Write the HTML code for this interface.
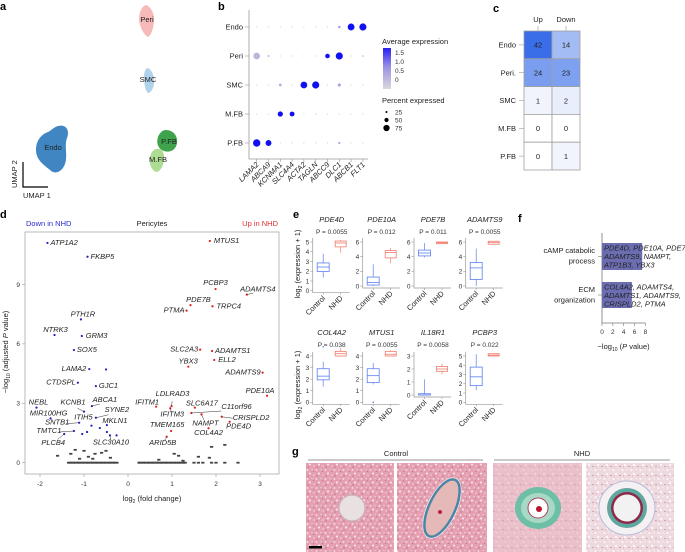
<!DOCTYPE html>
<html><head><meta charset="utf-8">
<style>
html,body{margin:0;padding:0;background:#fff;}
svg{display:block;font-family:"Liberation Sans",sans-serif;}
.t{font-size:7.5px;fill:#222;}
.tk{font-size:6.5px;fill:#333;}
.it{font-style:italic;}
.pl{font-size:11px;font-weight:bold;fill:#000;}
</style></head>
<body>
<svg id="fig" width="685" height="552" viewBox="0 0 685 552" xmlns="http://www.w3.org/2000/svg">
<defs>
 <pattern id="pinkTex" width="9" height="9" patternUnits="userSpaceOnUse">
  <rect width="9" height="9" fill="#e4a0b1"/>
  <circle cx="1.5" cy="2" r="0.9" fill="#f6e6ea"/><circle cx="6" cy="1.5" r="0.6" fill="#f3dbe1"/>
  <circle cx="4" cy="5.5" r="1" fill="#f8ecef"/><circle cx="8" cy="7" r="0.7" fill="#f3dbe1"/>
  <circle cx="2" cy="8" r="0.45" fill="#9a2545"/><circle cx="7.5" cy="3.5" r="0.35" fill="#8a1e3a"/>
 </pattern>
 <pattern id="paleTex" width="9" height="9" patternUnits="userSpaceOnUse">
  <rect width="9" height="9" fill="#eed9df"/>
  <circle cx="1.5" cy="2" r="1.1" fill="#faf4f6"/><circle cx="6" cy="1.5" r="0.8" fill="#f7eef1"/>
  <circle cx="4" cy="6" r="1.2" fill="#fbf7f8"/><circle cx="8" cy="7.5" r="0.45" fill="#b03050"/>
  <circle cx="2.5" cy="8" r="0.4" fill="#8b8fb8"/>
 </pattern>
</defs>

<!-- Panel a -->
<g>
 <text class="pl" x="0" y="10">a</text>
 <path d="M146,5 C151,7 155,14 154,22 C153,30 151,35 148,37 C144,35 140,28 139,20 C139,12 142,6 146,5Z" fill="#f6b3b0" opacity="0.9"/>
 <path d="M148,68 C152,70 155,77 154,84 C153,90 150,93 148,93 C145,90 144,83 144,77 C144,71 146,68 148,68Z" fill="#a9cde9" opacity="0.9"/>
 <path d="M58,126 C66,124 70,130 67,138 C64,146 68,155 65,164 C62,172 55,175 50,170 C44,165 36,160 36,150 C36,140 42,134 48,132 C52,130 54,127 58,126Z" fill="#2f7cbd" opacity="0.92"/>
 <path d="M166,130 C173,130 178,136 177,143 C176,150 170,153 164,151 C158,149 156,143 158,137 C160,132 163,130 166,130Z" fill="#2f9a3e" opacity="0.92"/>
 <path d="M157,149 C162,148 165,153 164,160 C163,167 160,172 156,172 C151,170 149,163 150,157 C151,152 154,149 157,149Z" fill="#a6d98a" opacity="0.92"/>
 <text class="t" x="147" y="22" text-anchor="middle">Peri</text>
 <text class="t" x="148" y="82" text-anchor="middle">SMC</text>
 <text class="t" x="53" y="150" text-anchor="middle">Endo</text>
 <text class="t" x="169" y="144" text-anchor="middle">P.FB</text>
 <text class="t" x="158" y="162" text-anchor="middle">M.FB</text>
 <path d="M23,162 L23,187 L48,187" stroke="#000" stroke-width="1.2" fill="none"/>
 <text class="t" x="0" y="0" transform="translate(17,188) rotate(-90)">UMAP 2</text>
 <text class="t" x="23" y="198">UMAP 1</text>
</g>

<!-- Panel b -->
<g id="panelB">
 <text class="pl" x="218" y="10">b</text>
 <path d="M249,10 L249,159 L368,159" stroke="#999" stroke-width="0.8" fill="none"/>
 <text class="t" x="382" y="44">Average expression</text>
 <linearGradient id="cbar" x1="0" y1="1" x2="0" y2="0"><stop offset="0" stop-color="#d9d9d9"/><stop offset="0.55" stop-color="#9a8fe6"/><stop offset="1" stop-color="#2a1ff0"/></linearGradient>
 <rect x="383" y="48" width="8" height="41" fill="url(#cbar)"/>
 <text class="tk" x="395" y="55">1.5</text>
 <text class="tk" x="395" y="64">1.0</text>
 <text class="tk" x="395" y="73">0.5</text>
 <text class="tk" x="395" y="82">0</text>
 <text class="t" x="382" y="103">Percent expressed</text>
</g>

<!-- Panel c -->
<g id="panelC">
 <text class="pl" x="493" y="12">c</text>
 <text class="t" x="538" y="22" text-anchor="middle">Up</text>
 <text class="t" x="566" y="22" text-anchor="middle">Down</text>
</g>

<!-- Panel d -->
<g id="panelD">
 <text class="pl" x="0" y="218">d</text>
 <text class="t" x="26" y="226" style="fill:#2a2ad0">Down in NHD</text>
 <text class="t" x="152" y="226" text-anchor="middle">Pericytes</text>
 <text class="t" x="278" y="226" text-anchor="end" style="fill:#e03030">Up in NHD</text>
 <rect x="25" y="232" width="254" height="242" fill="none" stroke="#aaa" stroke-width="0.8"/>
 <text class="t" x="152" y="501" text-anchor="middle">log<tspan font-size="5" dy="2">2</tspan><tspan dy="-2"> (fold change)</tspan></text>
 <text class="t" transform="translate(8,352) rotate(-90)" text-anchor="middle">−log<tspan font-size="5" dy="2">10</tspan><tspan dy="-2"> (adjusted </tspan><tspan font-style="italic">P</tspan> value)</text>
</g>

<!-- Panel e -->
<g id="panelE">
 <text class="pl" x="293" y="218">e</text>
 <text class="t" transform="translate(300,264) rotate(-90)" text-anchor="middle">log<tspan font-size="5" dy="2">2</tspan><tspan dy="-2"> (expression + 1)</tspan></text>
 <text class="t" transform="translate(300,385) rotate(-90)" text-anchor="middle">log<tspan font-size="5" dy="2">2</tspan><tspan dy="-2"> (expression + 1)</tspan></text>
</g>

<!-- Panel f -->
<g id="panelF">
 <text class="pl" x="518" y="222">f</text>
 <text class="t" x="623.6" y="349" text-anchor="middle">−log<tspan font-size="5" dy="2">10</tspan><tspan dy="-2"> (</tspan><tspan font-style="italic">P</tspan> value)</text>
</g>

<!-- Panel g -->
<g>
 <text class="pl" x="292" y="455">g</text>
 <text class="t" x="396" y="456" text-anchor="middle">Control</text>
 <line x1="308" y1="460" x2="483" y2="460" stroke="#aaa" stroke-width="1.2"/>
 <text class="t" x="582" y="456" text-anchor="middle">NHD</text>
 <line x1="494" y1="460" x2="670" y2="460" stroke="#aaa" stroke-width="1.2"/>
 <g>
  <rect x="306" y="463" width="88" height="89" fill="url(#pinkTex)"/>
  <circle cx="352" cy="508" r="13" fill="#e9e1e1" stroke="#c8b0c0" stroke-width="1.2"/>
  <rect x="309" y="546" width="13" height="2.5" fill="#000"/>
 </g>
 <g>
  <rect x="397" y="463" width="90" height="89" fill="url(#pinkTex)"/>
  <ellipse cx="442" cy="508" rx="15" ry="33" transform="rotate(25 442 508)" fill="#f4f0f0"/>
  <ellipse cx="442" cy="508" rx="13" ry="31" transform="rotate(25 442 508)" fill="#e6b9b9" stroke="#4a86a6" stroke-width="2.5"/>
  <circle cx="440" cy="512" r="2" fill="#c0203a"/>
 </g>
 <g>
  <rect x="493" y="463" width="89" height="89" fill="url(#paleTex)"/>
  <rect x="493" y="463" width="89" height="89" fill="#e4a0b2" opacity="0.45"/>
  <ellipse cx="538" cy="508" rx="23" ry="21" fill="#6dbfa5"/>
  <ellipse cx="538" cy="508" rx="17" ry="15" fill="#a8d9c6"/>
  <circle cx="538" cy="508" r="10" fill="#fff" stroke="#b04060" stroke-width="1"/>
  <circle cx="539" cy="509" r="3" fill="#c01030"/>
 </g>
 <g>
  <rect x="586" y="463" width="88" height="89" fill="url(#paleTex)"/>
  <ellipse cx="627" cy="508" rx="28" ry="27" fill="#f5f0f2" stroke="#b8bcd8" stroke-width="1"/>
  <circle cx="627" cy="508" r="20" fill="#5fa8a0"/>
  <circle cx="627" cy="508" r="16" fill="#8d2a4a"/>
  <circle cx="627" cy="508" r="13.5" fill="#f2f2f2"/>
 </g>
</g>
</svg>

<script>
// ---------- Panel b data ----------
const dotRows = ["Endo","Peri","SMC","M.FB","P.FB"];
const dotCols = ["LAMA2","ABCA9","KCNMA1","SLC4A4","ACTA2","TAGLN","ABCC9","DLC1","ABCB1","FLT1"];
const dotAvg = [
 [-0.5,-0.5,-0.5,-0.5,-0.5,-0.5,-0.5,-0.1,1.6,1.6],
 [-0.3,-0.4,-0.5,-0.5,-0.5,-0.5,1.6,1.6,-0.5,-0.4],
 [-0.5,-0.5,-0.2,-0.5,1.6,1.6,-0.5,-0.1,-0.5,-0.5],
 [-0.5,-0.5,1.6,1.6,-0.5,-0.5,-0.5,-0.5,-0.5,-0.5],
 [1.6,1.6,-0.5,-0.5,-0.5,-0.5,-0.5,-0.2,-0.5,-0.5]];
const dotPct = [
 [15,15,15,15,15,15,15,30,82,85],
 [80,27,15,15,15,15,55,85,15,22],
 [15,15,32,15,80,85,15,37,15,15],
 [15,15,62,58,15,18,15,15,15,15],
 [88,70,15,15,15,15,15,26,15,15]];
const legendPct = [25,50,75];
// ---------- Panel c data ----------
const hmRows = ["Endo","Peri.","SMC","M.FB","P.FB"];
const hmUp = [42,24,1,0,0];
const hmDown = [14,23,2,0,1];
// ---------- Panel d data ----------
const sigNames = ["ATP1A2","FKBP5","PTH1R","NTRK3","GRM3","SOX5","LAMA2","","CTDSPL","GJC1","NEBL","KCNB1","ABCA1","SYNE2","MIR100HG","SNTB1","ITIH5","MKLN1","TMTC1","PLCB4","SLC30A10","","","","","",
 "MTUS1","PCBP3","ADAMTS4","PDE7B","TRPC4","PTMA","SLC2A3","ADAMTS1","ELL2","YBX3","ADAMTS9","PDE10A","IFITM1","LDLRAD3","IFITM3","SLC6A17","C11orf96","NAMPT","CRISPLD2","PDE4D","COL4A2","TMEM165","ARID5B"];
const sigFC = [-1.83,-0.92,-1.07,-1.67,-1.05,-1.23,-0.88,-0.50,-1.14,-0.73,-2.08,-1.00,-0.82,-0.73,-1.76,-1.11,-0.83,-0.48,-1.23,-1.45,-0.41,-1.04,-0.93,-0.64,-0.48,-0.26,
 1.86,1.99,2.70,1.42,1.92,1.33,1.64,1.91,1.96,1.37,3.06,3.16,0.64,0.99,0.96,1.52,1.44,1.67,2.13,2.31,1.83,0.98,0.88];
const sigP = [11.1,10.4,7.24,6.45,6.40,5.69,4.73,4.71,4.04,3.87,2.78,2.58,2.86,2.27,2.24,2.02,1.87,1.90,1.60,1.45,1.38,1.45,1.55,1.75,1.55,1.38,
 11.2,8.77,8.49,7.96,7.90,7.68,5.71,5.64,5.19,4.85,4.55,3.38,2.83,2.86,2.75,2.78,2.51,2.44,2.32,2.07,1.74,1.60,1.31];
const nsFC = [-1.35,-1.3,-1.25,-1.2,-1.15,-1.1,-1.05,-1.0,-0.95,-0.9,-0.85,-0.8,-0.75,-0.7,-0.65,-0.6,-0.55,-0.5,-0.45,-0.4,-0.35,-0.3,-0.25,
 -1.32,-1.22,-1.12,-1.02,-0.92,-0.82,-0.72,-0.62,-0.52,-0.42,-0.32,
 0.25,0.3,0.35,0.4,0.45,0.5,0.55,0.6,0.65,0.7,0.75,0.8,0.85,0.9,0.95,1.0,1.05,1.1,1.15,1.2,1.25,1.3,
 0.27,0.37,0.47,0.57,0.67,0.77,0.87,0.97,1.07,1.17,1.27,
 1.5,1.6,1.7,1.9,2.0,2.2,2.5,
 -1.6,-1.3,-1.2,-1.0,-0.9,-0.75,-0.6,-0.5,-0.4,-1.1,-0.8,1.05,1.15,1.6,1.85,1.9,2.2,1.25,0.7];
const nsP = [0,0,0,0,0,0,0,0,0,0,0,0,0,0,0,0,0,0,0,0,0,0,0,
 0,0,0,0,0,0,0,0,0,0,0,
 0,0,0,0,0,0,0,0,0,0,0,0,0,0,0,0,0,0,0,0,0,0,
 0,0,0,0,0,0,0,0,0,0,0,
 0,0,0,0,0,0,0,
 0.35,0.45,0.65,0.6,0.3,0.45,0.5,0.6,0.25,0.2,0.2,0.45,0.35,0.3,0.25,0.8,0.9,0.1,0.15];
const volXTicks = [-2,-1,0,1,2,3];
const volYTicks = [0,3,6,9];
// ---------- Panel e data ----------
const boxGenes = ["PDE4D","PDE10A","PDE7B","ADAMTS9","COL4A2","MTUS1","IL18R1","PCBP3"];
const boxPvals = ["P = 0.0055","P = 0.012","P = 0.011","P = 0.0055","P = 0.038","P = 0.0055","P = 0.0058","P = 0.022"];
const boxYTicks = [[0,1,2,3,4,5],[0,2,4,6],[0,2,4,6],[0,2,4,6],[0,1,2,3,4],[0,1,2,3,4],[0,1,2,3],[0,1,2,3,4,5]];
// [whiskerLo, q1, median, q3, whiskerHi]
const ctrlStats = [[1.35,1.98,2.43,2.85,3.8],[0,0.13,0.48,1.22,2.96],[3.9,4.1,4.5,4.9,5.86],[0,0.9,2.47,3.2,5.1],[1.35,1.94,2.26,2.9,3.5],[1.55,1.7,2.3,2.9,3.4],[0,0,0,0.1,1.2],[1.3,1.8,2.75,3.8,5.2]];
const nhdStats = [[3.9,4.5,4.9,5.1,5.2],[3.1,3.83,4.57,4.83,5.2],[5.77,5.77,5.9,6.0,6.0],[5.7,5.7,5.95,6.1,6.1],[3.95,4.0,4.2,4.4,4.7],[4.0,4.0,4.15,4.4,4.5],[1.6,1.82,2.0,2.2,2.4],[5.0,5.0,5.1,5.25,5.25]];
const ctrlOutliers = [[],[],[],[],[4.8],[0],[],[]];
// ---------- Panel f data ----------
const goTerms = [["cAMP catabolic","process"],["ECM","organization"]];
const goValues = [7.4,5.5];
const goGenes = [["PDE4D, PDE10A, PDE7B,","ADAMTS9, NAMPT,","ATP1B3, YBX3"],["COL4A2, ADAMTS4,","ADAMTS1, ADAMTS9,","CRISPLD2, PTMA"]];
const goTicks = [0,2,4,6,8];

const NS = "http://www.w3.org/2000/svg";
function mk(parent, tag, attrs, text){
  const e = document.createElementNS(NS, tag);
  for (const k in attrs) e.setAttribute(k, attrs[k]);
  if (text !== undefined) e.textContent = text;
  parent.appendChild(e); return e;
}

// ---- Panel b ----
(function(){
  const g = document.getElementById('panelB');
  const colX = c => 256.7 + c*11.8;
  const rowY = r => 27 + r*29;
  const rad = p => p/100*4.2;
  const col = a => { let t=Math.max(0,Math.min(1,(a+0.5)/2.1)); t=Math.pow(t,0.8);
    const r=Math.round(214+(16-214)*t), gg=Math.round(214+(16-214)*t), b=Math.round(214+(240-214)*t);
    return `rgb(${r},${gg},${b})`; };
  dotRows.forEach((rn,r)=>{
    const lbl = mk(g,'text',{class:'t',x:243,y:rowY(r)+2.7,'text-anchor':'end'},rn);
    
    
    mk(g,'line',{x1:245,y1:rowY(r),x2:249,y2:rowY(r),stroke:'#999','stroke-width':0.6});
    dotCols.forEach((cn,c)=>{
      const d = mk(g,'circle',{cx:colX(c),cy:rowY(r),r:rad(dotPct[r][c]),fill:col(dotAvg[r][c])});
      
      
    });
  });
  dotCols.forEach((cn,c)=>{
    mk(g,'line',{x1:colX(c),y1:159,x2:colX(c),y2:162,stroke:'#999','stroke-width':0.6});
    const t = mk(g,'text',{class:'t it',x:0,y:0,'text-anchor':'end',transform:`translate(${colX(c)+2.5},${165}) rotate(-45)`},cn);
    
    
  });
  legendPct.forEach((p,i)=>{
    const y = 112 + i*8;
    const d = mk(g,'circle',{cx:386.5,cy:y,r:rad(p),fill:'#000'});
    
    
    const t = mk(g,'text',{class:'tk',x:395,y:y+2.3},String(p));
    
    
  });
})();

// ---- Panel c ----
(function(){
  const g = document.getElementById('panelC');
  const x0=524, w=28, y0=31, h=27.8;
  const color = v => { const t=Math.pow(v/42,0.7);
    return `rgb(${Math.round(255+(58-255)*t)},${Math.round(255+(110-255)*t)},${Math.round(255+(232-255)*t)})`; };
  hmRows.forEach((rn,r)=>{
    const y=y0+r*h;
    const l = mk(g,'text',{class:'t',x:516,y:y+h/2+2.7,'text-anchor':'end'},rn);
    
    
    mk(g,'line',{x1:519,y1:y+h/2,x2:524,y2:y+h/2,stroke:'#999','stroke-width':0.6});
    [hmUp[r],hmDown[r]].forEach((v,c)=>{
      const cell = mk(g,'rect',{x:x0+c*w,y:y,width:w,height:h,fill:color(v),stroke:'#a0a0a0','stroke-width':0.8});
      
      
      const t = mk(g,'text',{class:'t',x:x0+c*w+w/2,y:y+h/2+2.8,'text-anchor':'middle'},String(v));
      
      
    });
  });
  mk(g,'line',{x1:538,y1:26,x2:538,y2:31,stroke:'#999','stroke-width':0.6});
  mk(g,'line',{x1:566,y1:26,x2:566,y2:31,stroke:'#999','stroke-width':0.6});
})();

// ---- Panel d ----
const labelLayout = {
 "ATP1A2":["start",3,2],"FKBP5":["start",3,2],"MTUS1":["start",4,2],"PCBP3":["middle",0,-4],"ADAMTS4":["middle",11,-3],
 "PDE7B":["middle",8,-3],"TRPC4":["start",4,2],"PTMA":["end",-2,2],"PTH1R":["middle",2,-3],"NTRK3":["middle",1,-3],
 "GRM3":["start",4,2],"SOX5":["start",3,2],"SLC2A3":["end",-2,2],"ADAMTS1":["start",3,2],"ELL2":["start",4,2],
 "YBX3":["middle",0,-3],"LAMA2":["end",-3,2],"ADAMTS9":["end",-2,2],"CTDSPL":["end",-2,2],"GJC1":["start",3,2],
 "PDE10A":["middle",-7,-3],"NEBL":["middle",2,-3],"KCNB1":["middle",-11,-7],"ABCA1":["middle",13,-4],"IFITM1":["middle",-9,-2],
 "LDLRAD3":["middle",1,-10],"IFITM3":["middle",2,8],"SLC6A17":["middle",7,-2],"C11orf96":["start",30,-4],"NAMPT":["middle",4,11],
 "CRISPLD2":["start",11,3],"SYNE2":["middle",21,-6],"MIR100HG":["middle",-2,-3],"MKLN1":["middle",8,-2],"SNTB1":["middle",-22,2],
 "ITIH5":["middle",-8,-6],"PDE4D":["middle",9,7],"COL4A2":["middle",0,7],"TMTC1":["middle",-25,2],"TMEM165":["middle",-4,-4],
 "PLCB4":["middle",-11,11],"SLC30A10":["middle",1,9],"ARID5B":["middle",-4,8]};
(function(){
  const g = document.getElementById('panelD');
  const X = v => 128 + v*44;
  const Y = v => 462.7 - v*19.8;
  volXTicks.forEach(v=>{
    mk(g,'line',{x1:X(v),y1:474,x2:X(v),y2:477,stroke:'#999','stroke-width':0.6});
    const t=mk(g,'text',{class:'tk',x:X(v),y:486,'text-anchor':'middle'},v<0?'-'+Math.abs(v):String(v));
    
    
  });
  volYTicks.forEach(v=>{
    mk(g,'line',{x1:22,y1:Y(v),x2:25,y2:Y(v),stroke:'#999','stroke-width':0.6});
    const t=mk(g,'text',{class:'tk',x:20,y:Y(v)+2.3,'text-anchor':'end'},String(v));
    
    
  });
  nsFC.forEach((fc,i)=>{
    const p = mk(g,'rect',{x:X(fc)-1.6,y:Y(nsP[i])-0.9,width:3.2,height:1.8,fill:'#444'});
    
    
  });
  sigFC.forEach((fc,i)=>{
    const cx=X(fc), cy=Y(sigP[i]);
    const p = mk(g,'circle',{cx:cx,cy:cy,r:1.1,fill:fc<0?'#2020c0':'#e02020'});
    
    
    const L = labelLayout[sigNames[i]];
    if (sigNames[i] && L){
      const t = mk(g,'text',{class:'t it',x:cx+L[1],y:cy+L[2],'text-anchor':L[0],'font-size':'7.3'},sigNames[i]);
      
      
      if (Math.abs(L[1])>9 || Math.abs(L[2])>7){
        mk(g,'line',{x1:cx,y1:cy,x2:cx+L[1]*(L[0]==='start'?1:0.6),y2:cy+L[2]*0.5,stroke:'#333','stroke-width':0.5});
      }
    }
  });
})();

// ---- Panel e ----
(function(){
  const g = document.getElementById('panelE');
  const axX = [312.7,362.7,414,465.7,312.7,362.7,414,465.7];
  const zeroY = [290.7,286,286,286,402.3,402.3,395,402.3];
  const topY = [238,238,238,238,352,352,352,352];
  const titleY = [222,222,222,222,335,335,335,335];
  boxGenes.forEach((gn,i)=>{
    const ticks = boxYTicks[i];
    const ymax = ticks[ticks.length-1];
    const unit = (zeroY[i]-(topY[i]+4))/ymax;
    const Y = v => zeroY[i] - v*unit;
    const x0 = axX[i];
    const t1 = mk(g,'text',{class:'t it',x:x0+19,y:titleY[i],'text-anchor':'middle','font-size':'8'},gn);
    
    
    const t2 = mk(g,'text',{class:'tk',x:x0+19,y:titleY[i]+12,'text-anchor':'middle','font-size':'6'},boxPvals[i]);
    
    
    mk(g,'path',{d:`M${x0},${topY[i]} L${x0},${zeroY[i]+2} L${x0+37},${zeroY[i]+2}`,stroke:'#999','stroke-width':0.7,fill:'none'});
    ticks.forEach(v=>{
      mk(g,'line',{x1:x0-2.5,y1:Y(v),x2:x0,y2:Y(v),stroke:'#999','stroke-width':0.6});
      const t=mk(g,'text',{class:'tk',x:x0-3.5,y:Y(v)+2.3,'text-anchor':'end'},String(v));
      
      
    });
    [[ctrlStats[i],x0+10.5,'#5b7ff0','Control',12],[nhdStats[i],x0+28,'#f07c6c','NHD',11]].forEach(([s,cx,c,lab,w])=>{
      const bg = mk(g,'g',{});
      
      
      mk(bg,'line',{x1:cx,y1:Y(s[0]),x2:cx,y2:Y(s[1]),stroke:c,'stroke-width':0.7});
      mk(bg,'line',{x1:cx,y1:Y(s[3]),x2:cx,y2:Y(s[4]),stroke:c,'stroke-width':0.7});
      mk(bg,'rect',{x:cx-w/2,y:Y(s[3]),width:w,height:Math.max(0.8,Y(s[1])-Y(s[3])),fill:'#fff',stroke:c,'stroke-width':0.8});
      mk(bg,'line',{x1:cx-w/2,y1:Y(s[2]),x2:cx+w/2,y2:Y(s[2]),stroke:c,'stroke-width':0.8});
      mk(g,'line',{x1:cx,y1:zeroY[i]+2,x2:cx,y2:zeroY[i]+4,stroke:'#999','stroke-width':0.6});
      const t = mk(g,'text',{class:'t',x:0,y:0,'text-anchor':'end','font-size':'8',transform:`translate(${cx+2.5},${zeroY[i]+8}) rotate(-45)`},lab);
      
      
    });
    ctrlOutliers[i].forEach(v=>{
      const o = mk(g,'circle',{cx:x0+10.5,cy:Y(v),r:0.8,fill:'#5b7ff0'});
      
      
    });
  });
})();

// ---- Panel f ----
(function(){
  const g = document.getElementById('panelF');
  const X = v => 602 + v*5.43;
  const barY = [243,282], barH = [27,26];
  mk(g,'path',{d:`M602,233 L602,323 L${X(8)},323`,stroke:'#777','stroke-width':0.8,fill:'none'});
  goTicks.forEach(v=>{
    mk(g,'line',{x1:X(v),y1:323,x2:X(v),y2:326,stroke:'#777','stroke-width':0.6});
    const t=mk(g,'text',{class:'tk',x:X(v),y:334,'text-anchor':'middle'},String(v));
    
    
  });
  goValues.forEach((v,i)=>{
    const b = mk(g,'rect',{x:602,y:barY[i],width:X(v)-602,height:barH[i],fill:'#6b6db0'});
    
    
    mk(g,'line',{x1:598,y1:barY[i]+barH[i]/2,x2:602,y2:barY[i]+barH[i]/2,stroke:'#777','stroke-width':0.6});
    goTerms[i].forEach((ln,k)=>{
      const t=mk(g,'text',{class:'t',x:595,y:barY[i]+10+k*10.5,'text-anchor':'end','font-size':'7.8'},ln);
      
      
    });
    goGenes[i].forEach((ln,k)=>{
      const t=mk(g,'text',{class:'t it',x:604,y:barY[i]+7.5+k*8.5,'font-size':'6.4'},ln);
      
      
    });
  });
})();
</script>
</body></html>
